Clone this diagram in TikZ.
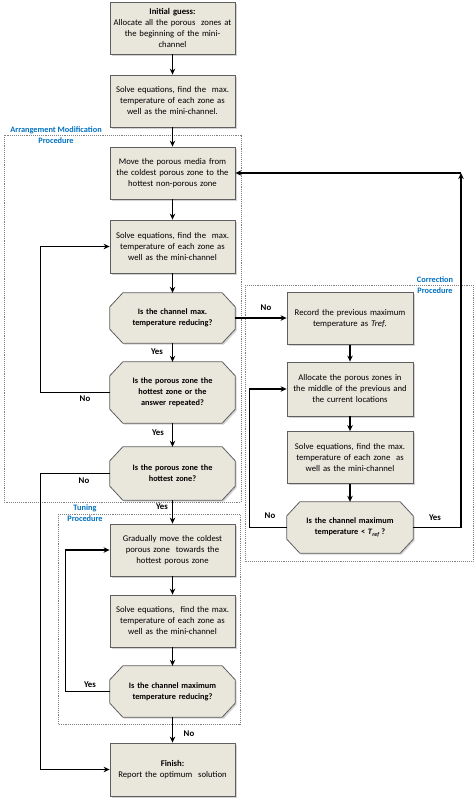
\documentclass[tikz,border=0pt]{standalone}
\usepackage{fontspec}
\setmainfont{Carlito}
\usepackage{tikz}
\usetikzlibrary{shapes,arrows.meta,positioning,calc,shadows,backgrounds}
\definecolor{boxfill}{RGB}{233,230,220}
\definecolor{boxline}{RGB}{95,95,95}
\definecolor{procblue}{RGB}{0,112,192}

\tikzset{
    procbox/.style={rectangle, draw=boxline, line width=0.8pt, fill=boxfill,
        drop shadow={shadow xshift=1.5pt, shadow yshift=-1.5pt, opacity=0.35},
        minimum width=125pt, minimum height=52pt, text width=124pt, inner sep=0pt,
        align=center, font=\fontsize{8.7}{11}\selectfont},
    decbox/.style={rectangle, minimum width=125pt, minimum height=51pt, text width=110pt, inner sep=0pt,
        align=center, font=\fontsize{8.3}{11}\selectfont\bfseries},
    decshape/.style={draw=boxline, line width=0.8pt, fill=boxfill,
        drop shadow={shadow xshift=1.5pt, shadow yshift=-1.5pt, opacity=0.35}},
    flow/.style={draw, line width=1.3pt, -{Stealth[length=6pt,width=5.5pt]}},
    answer/.style={font=\fontsize{8.8}{10}\selectfont\bfseries},
    frame/.style={draw=gray, densely dotted, line width=0.9pt},
    framelabel/.style={text=procblue, align=center, font=\fontsize{8.3}{11}\selectfont\bfseries}
}

% octagon behind a decision node
\newcommand{\decoutline}[1]{%
    \begin{scope}[on background layer]
        \path[decshape] ($(#1.north west)+(13,0)$) -- ($(#1.north east)+(-13,0)$)
            -- ($(#1.north east)+(0,14)$) -- ($(#1.south east)+(0,-14)$)
            -- ($(#1.south east)+(-13,0)$) -- ($(#1.south west)+(13,0)$)
            -- ($(#1.south west)+(0,-14)$) -- ($(#1.north west)+(0,14)$) -- cycle;
    \end{scope}}

\begin{document}
\begin{tikzpicture}[x=1pt, y=-1pt]
    \useasboundingbox (0,0) rectangle (474,801);

    % procedure frames
    \draw[frame] (4,135) rectangle (241,502);
    \draw[frame] (58,514) rectangle (240,724);
    \draw[frame] (245,285) rectangle (473,561);
    \node[framelabel] (arrlabel) at (56,135.5) {Arrangement Modification\\Procedure};
    \node[framelabel] (tunlabel) at (85,513.5) {Tuning\\Procedure};
    \node[framelabel] (corlabel) at (435,285) {Correction\\Procedure};

    % main column
    \node[procbox] (guess) at (172.5,28) {\textbf{Initial guess:}\\Allocate all the porous\ \ zones at\\the beginning of the mini-\\channel};
    \node[procbox] (solve1) at (172.5,101) {Solve equations, find the\ \ max.\\temperature of each zone as\\well as the mini-channel.};
    \node[procbox] (move) at (172.5,173) {Move the porous media from\\the coldest porous zone to the\\hottest non-porous zone};
    \node[procbox, minimum height=53pt] (solve2) at (172.5,246.5) {Solve equations, find the\ \ max.\\temperature of each zone as\\well as the mini-channel};
    \node[decbox, minimum height=50pt] (reduce1) at (172.5,318) {Is the channel max.\\temperature reducing?};
    \node[decbox, minimum height=61pt] (repeat) at (172.5,392.5) {Is the porous zone the\\hottest zone or the\\answer repeated?};
    \node[decbox, minimum height=53pt] (hottest) at (172.5,473.5) {Is the porous zone the\\hottest zone?};

    % tuning procedure
    \node[procbox] (gradual) at (172.5,550) {Gradually move the coldest\\porous zone\ \ towards the\\hottest porous zone};
    \node[procbox] (solve3) at (172.5,621) {Solve equations,\ \ find the max.\\temperature of each zone as\\well as the mini-channel};
    \node[decbox] (reduce2) at (172.5,691.5) {Is the channel maximum\\temperature reducing?};
    \node[procbox, minimum height=53pt] (finish) at (172.5,769.5) {\textbf{Finish:}\\Report the optimum\ \ solution};

    % correction procedure
    \node[procbox, minimum width=126pt] (record) at (350,318.5) {Record the previous maximum\\temperature as \textit{Tref}.};
    \node[procbox, minimum width=126pt, minimum height=54pt] (middle) at (350,389) {Allocate the porous zones in\\the middle of the previous and\\the current locations};
    \node[procbox, minimum width=126pt] (solve4) at (350,457.5) {Solve equations, find the max.\\temperature of each zone\ \ as\\well as the mini-channel};
    \node[decbox, minimum width=126pt] (lower) at (350,527.5) {Is the channel maximum\\temperature < \textit{T}\textsubscript{\textit{ref}}\,?};

    \decoutline{reduce1}
    \decoutline{repeat}
    \decoutline{hottest}
    \decoutline{reduce2}
    \decoutline{lower}

    % connectors
    \draw[flow] (guess) -- (solve1);
    \draw[flow] (solve1) -- (move);
    \draw[flow] (move) -- (solve2);
    \draw[flow] (solve2) -- (reduce1);
    \draw[flow] (reduce1) -- (repeat);
    \draw[flow] (repeat) -- (hottest);
    \draw[flow] (hottest) -- (gradual);
    \draw[flow] (gradual) -- (solve3);
    \draw[flow] (solve3) -- (reduce2);
    \draw[flow] (reduce2) -- (finish);
    \draw[flow] (reduce1.east) -- (reduce1.east -| record.west);
    \draw[flow] (record) -- (middle);
    \draw[flow] (middle) -- (solve4);
    \draw[flow] (solve4) -- (lower);

    \coordinate (backtop) at (461,173);
    \draw[flow] (lower.east) -| (backtop);
    \draw[flow] (backtop) -- (move.east);
    \draw[flow] (lower.west) -- ++(-37,0) |- (middle.west);
    \draw[flow] (repeat.west) -- ++(-69,0) |- (solve2.west);
    \draw[flow] (hottest.west) -- ++(-69,0) |- (finish.west);
    \draw[flow] (reduce2.west) -- ++(-44,0) |- (gradual.west);

    % answers
    \node[answer] (no1) at (266,308) {No};
    \node[answer] (yes1) at (157,352) {Yes};
    \node[answer] (no2) at (85,399) {No};
    \node[answer] (yes2) at (158,433) {Yes};
    \node[answer] (no3) at (84,481) {No};
    \node[answer] (yes3) at (162,507) {Yes};
    \node[answer] (no4) at (270,516) {No};
    \node[answer] (yes4) at (435,518) {Yes};
    \node[answer] (yes5) at (90,685) {Yes};
    \node[answer] (no5) at (189,734) {No};
\end{tikzpicture}
\end{document}
